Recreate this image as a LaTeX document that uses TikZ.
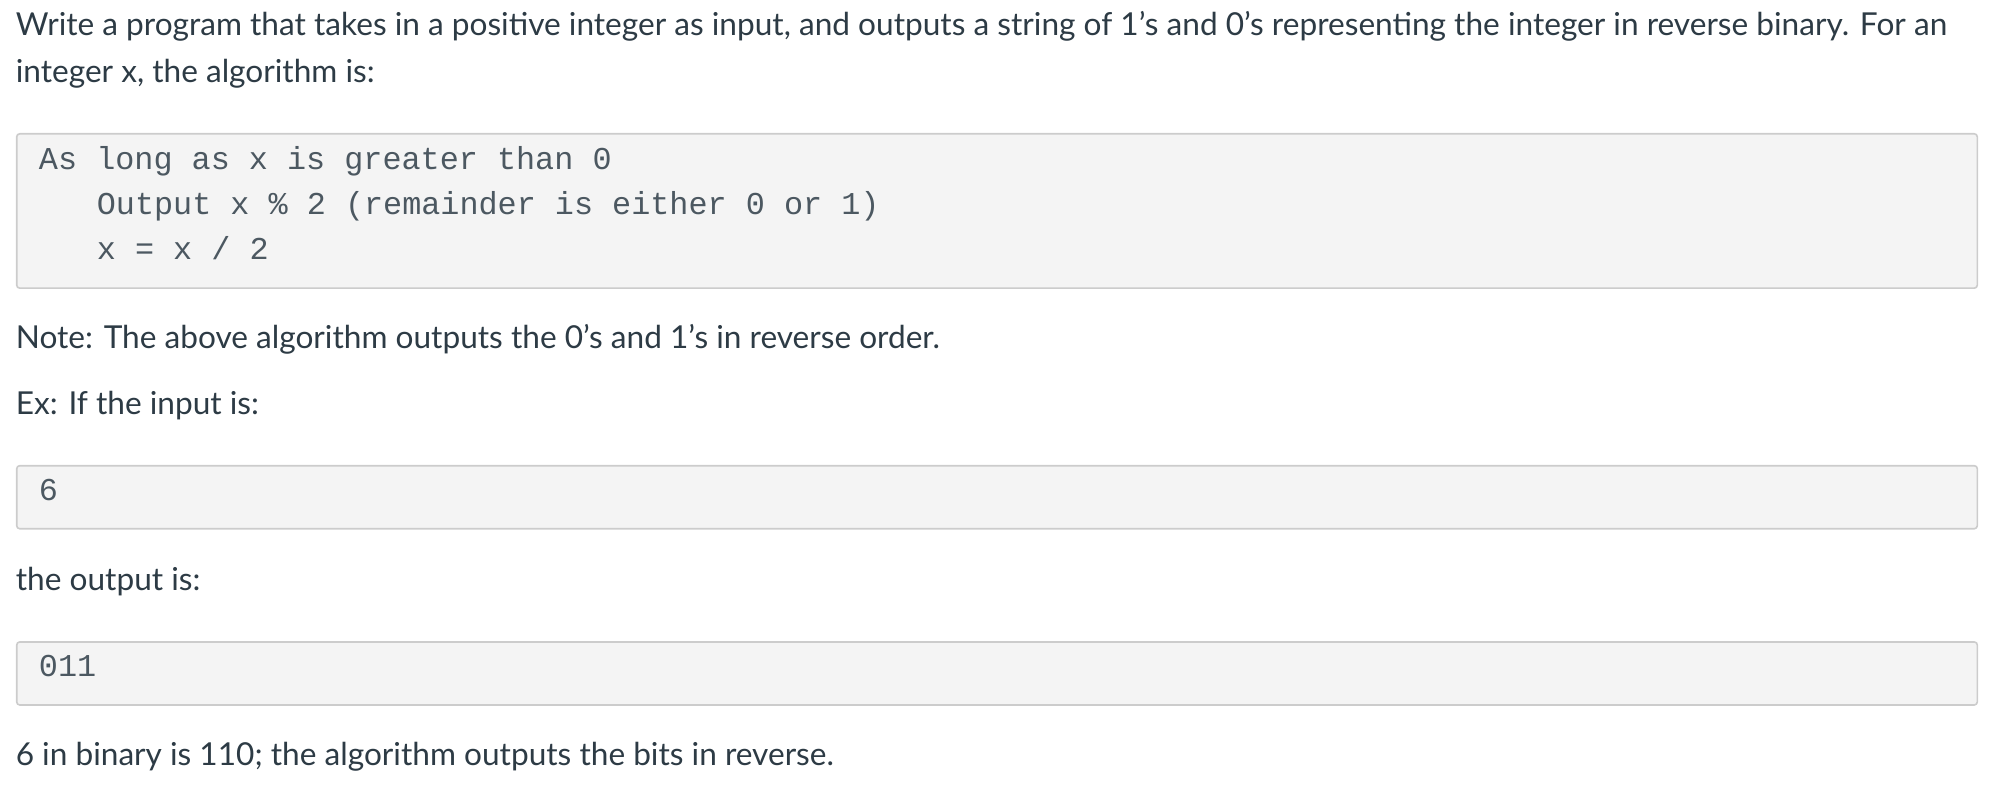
\documentclass[tikz,border=0pt]{standalone}
\usepackage{fontspec}
\setmainfont{Lato}
\setmonofont{Liberation Mono}
\definecolor{txt}{HTML}{2D3B45}
\definecolor{boxfill}{HTML}{F4F4F4}
\definecolor{boxline}{HTML}{CCCCCC}
\begin{document}
\begin{tikzpicture}[x=0.643pt,y=-0.643pt,
  para/.style={anchor=mid west,inner sep=0pt,text=txt,font=\fontsize{15.8}{20}\selectfont},
  code/.style={anchor=mid west,inner sep=0pt,text=txt!85,font=\ttfamily\fontsize{15.9}{20}\selectfont},
  codebox/.style={draw=boxline,fill=boxfill,line width=0.8pt,rounded corners=1.5pt}]
\useasboundingbox (0,0) rectangle (1550,614);
\node[para] (t1) at (12,24) {Write a program that takes in a positive integer as input, and outputs a string of 1's and 0's representing the integer in reverse binary. For an};
\node[para] (t2) at (12,60) {integer x, the algorithm is:};
\draw[codebox] (13,104) rectangle (1537,224);
\node[code] (c1) at (30,128) {As long as x is greater than 0};
\node[code] (c2) at (75,163) {Output x \% 2 (remainder is either 0 or 1)};
\node[code] (c3) at (75,198) {x = x / 2};
\node[para] (n1) at (12,267) {Note: The above algorithm outputs the 0's and 1's in reverse order.};
\node[para] (n2) at (12,318) {Ex: If the input is:};
\draw[codebox] (13,362) rectangle (1537,411);
\node[code] (i1) at (30,385) {6};
\node[para] (n3) at (12,455) {the output is:};
\draw[codebox] (13,499) rectangle (1537,548);
\node[code] (o1) at (30,522) {011};
\node[para] (n4) at (12,591) {6 in binary is 110; the algorithm outputs the bits in reverse.};
\end{tikzpicture}
\end{document}
